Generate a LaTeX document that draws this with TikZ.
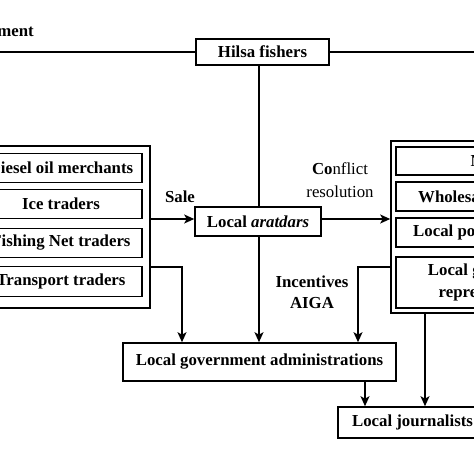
\documentclass[tikz,border=0pt]{standalone}
\usepackage{fontspec}
\setmainfont{Liberation Serif}
\usetikzlibrary{arrows.meta}
\begin{document}
\begin{tikzpicture}[x=1pt,y=-1pt,
  every node/.style={font=\fontsize{16.8}{20}\selectfont\bfseries},
  box/.style={draw, line width=1.6pt, inner sep=0pt},
  plain/.style={inner sep=0pt},
  conn/.style={line width=1.6pt},
  arr/.style={line width=1.6pt, -{Stealth[length=10pt,width=9pt,inset=2.5pt]}}]
\useasboundingbox (0,0) rectangle (474,474);
\clip (0,0) rectangle (474,474);
% top
\node[plain, anchor=east] (gov) at (34,31) {Government};
\node[box, minimum width=133pt, minimum height=26pt] (hilsa) at (262.5,52) {Hilsa fishers};
\coordinate (tl) at (-10,52);
\coordinate (tr) at (484,52);
% left group
\node[box, minimum width=178pt, minimum height=162pt] (leftouter) at (61,227) {};
\node[box, minimum width=162pt, minimum height=29pt] (diesel) at (61,168) {Diesel oil merchants};
\node[box, minimum width=162pt, minimum height=29pt] (ice) at (61,204) {Ice traders};
\node[box, minimum width=162pt, minimum height=29pt] (net) at (61,243) {Fishing Net traders};
\node[box, minimum width=162pt, minimum height=30pt] (transport) at (61,281.5) {Transport traders};
% centre
\node[box, minimum width=126pt, minimum height=29pt] (aratdars) at (258,221.5) {Local \textit{aratdars}};
\node[plain] (sale) at (180,197) {Sale};
\node[plain, align=center, font=\fontsize{16.8}{23}\selectfont] (conflict) at (340,180.5) {\textbf{Co}nflict\\resolution};
\node[plain, align=center, font=\fontsize{16.8}{21}\selectfont\bfseries] (incent) at (312,292.5) {Incentives\\AIGA};
\node[box, minimum width=273pt, minimum height=38pt] (admin) at (259.5,362) {Local government administrations};
\node[box, minimum width=149pt, minimum height=31pt] (journ) at (412.5,422.5) {Local journalists};
% right group
\node[box, minimum width=204pt, minimum height=172pt] (rightouter) at (493,227) {};
\node[box, minimum width=194pt, minimum height=28pt] (ngo) at (493,161) {NGOs};
\node[box, minimum width=194pt, minimum height=29pt] (whole) at (493,196.5) {};
\node[plain, anchor=west] (wholet) at (418,196.5) {Wholesalers};
\node[box, minimum width=194pt, minimum height=29pt] (pol) at (493,232.5) {};
\node[plain, anchor=west] (polt) at (413,232.5) {Local politicians};
\node[box, minimum width=194pt, minimum height=51pt, align=center, font=\fontsize{16.8}{22}\selectfont\bfseries] (rep) at (493,282.5) {Local government\\representatives};
% helper coordinates
\coordinate (xv) at (259,0);
\coordinate (xa) at (182,0);
\coordinate (xb) at (358,0);
\coordinate (xj1) at (365,0);
\coordinate (xj2) at (425,0);
\coordinate (yl) at (0,267);
\coordinate (ys) at (0,219);
% connectors
\draw[conn] (tl) -- (hilsa.west);
\draw[conn] (hilsa.east) -- (tr);
\draw[conn] (hilsa.south -| xv) -- (aratdars.north -| xv);
\draw[arr] (aratdars.south -| xv) -- (admin.north -| xv);
\draw[arr] (leftouter.east |- ys) -- (aratdars.west |- ys);
\draw[arr] (aratdars.east |- ys) -- (rightouter.west |- ys);
\draw[arr] (leftouter.east |- yl) -| (admin.north -| xa);
\draw[arr] (rightouter.west |- yl) -| (admin.north -| xb);
\draw[arr] (admin.south -| xj1) -- (journ.north -| xj1);
\draw[arr] (rightouter.south -| xj2) -- (journ.north -| xj2);
\end{tikzpicture}
\end{document}
